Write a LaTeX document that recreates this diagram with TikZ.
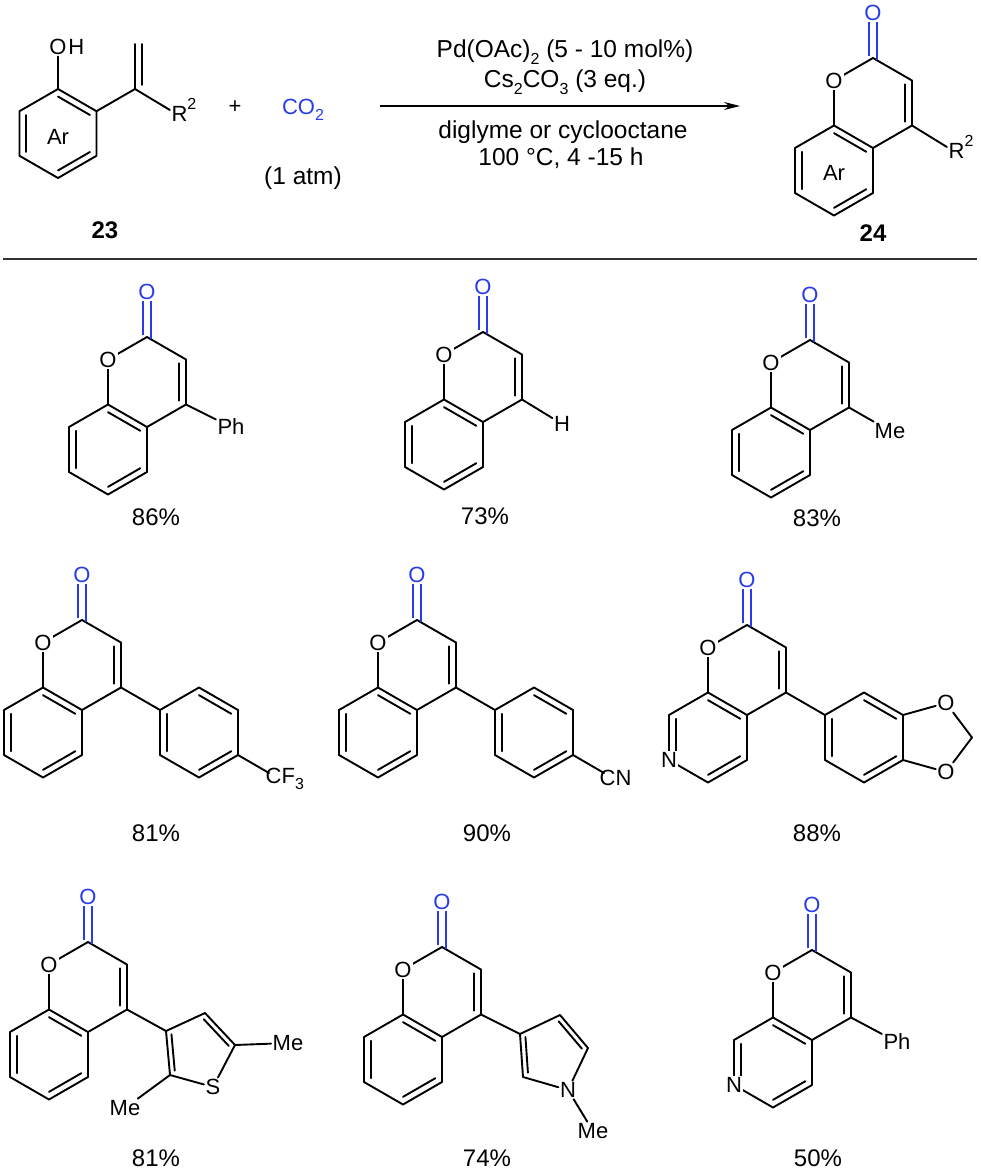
\documentclass[tikz,border=0pt]{standalone}
\usepackage{fontspec}
\setmainfont{Liberation Sans}
\usetikzlibrary{calc,arrows.meta}
\newcommand\sbs[1]{\raisebox{-0.28em}{\fontsize{16}{16}\selectfont #1}}
\newcommand\sps[1]{\raisebox{0.55em}{\fontsize{16}{16}\selectfont #1}}
\definecolor{oblue}{RGB}{40,60,235}
\tikzset{
  bond/.style={line width=1.9pt,line cap=round,line join=round},
  cob/.style={line width=1.9pt,draw=oblue},
  atom/.style={font=\fontsize{22}{24}\selectfont,fill=white,inner sep=1.5pt},
  lbl/.style={font=\fontsize{22}{24}\selectfont,inner sep=1.5pt},
  yld/.style={font=\fontsize{24}{26}\selectfont},
  cond/.style={font=\fontsize{24.5}{26}\selectfont},
}
\newcommand\inb[3]{\draw[bond] ($(#1)!0.17!(#3)$) -- ($(#2)!0.17!(#3)$);}
\newcommand\coum[4]{%
\begin{scope}[shift={(#2,#3)}]
 \coordinate (#1c2) at (0,0); \coordinate (#1c3) at (39,22.5);
 \coordinate (#1c4) at (39,67.5); \coordinate (#1c4a) at (0,90);
 \coordinate (#1c8a) at (-39,67.5); \coordinate (#1o1) at (-39,22.5);
 \coordinate (#1c5) at (0,135); \coordinate (#1c6) at (-39,157.5);
 \coordinate (#1c7) at (-78,135); \coordinate (#1c8) at (-78,90);
 \coordinate (#1za) at (0,45); \coordinate (#1zb) at (-39,112.5);
 \draw[bond] (#1o1)--(#1c2)--(#1c3)--(#1c4)--(#1c4a)--(#1c8a)--cycle;
 \draw[bond] (#1c4a)--(#1c5)--(#1c6)--(#1c7)--(#1c8)--(#1c8a);
 \inb{#1c3}{#1c4}{#1za}
 \inb{#1c8a}{#1c4a}{#1zb}
 \inb{#1c5}{#1c6}{#1zb}
 \inb{#1c7}{#1c8}{#1zb}
 \draw[cob] (-3.8,-2) -- (-3.8,-36) (3.8,2) -- (3.8,-36);
 \node[atom,text=oblue] (#1ox) at (0,-45) {O};
 \node[atom] (#1o) at (#1o1) {O};
 \ifnum#4=1 \node[atom] (#1n) at (#1c7) {N};\fi
\end{scope}}
\newcommand\phen[3]{%
\begin{scope}[shift={(#2,#3)}]
 \coordinate (#1z) at (0,0);
 \coordinate (#1ul) at (-39,-22.5); \coordinate (#1t) at (0,-45);
 \coordinate (#1ur) at (39,-22.5); \coordinate (#1lr) at (39,22.5);
 \coordinate (#1b) at (0,45); \coordinate (#1ll) at (-39,22.5);
 \draw[bond] (#1ul)--(#1t)--(#1ur)--(#1lr)--(#1b)--(#1ll)--cycle;
 \inb{#1ll}{#1ul}{#1z}
 \inb{#1t}{#1ur}{#1z}
 \inb{#1lr}{#1b}{#1z}
\end{scope}}
\begin{document}
\begin{tikzpicture}[x=1pt,y=-1pt]
\useasboundingbox (0,0) rectangle (980,1170);
% ---------- substrate 23
\begin{scope}[shift={(58,133.5)}]
 \coordinate (sz) at (0,0);
 \coordinate (st) at (0,-44.5); \coordinate (sur) at (38.5,-22.3);
 \coordinate (slr) at (38.5,22.3); \coordinate (sb) at (0,44.5);
 \coordinate (sll) at (-38.5,22.3); \coordinate (sul) at (-38.5,-22.3);
 \draw[bond] (st)--(sur)--(slr)--(sb)--(sll)--(sul)--cycle;
 \inb{sll}{sul}{sz} \inb{st}{sur}{sz} \inb{slr}{sb}{sz}
 \node[lbl] at (0,3) {Ar};
\end{scope}
\node[lbl] (oh) at (58,47) {O};
\node[lbl,anchor=west,inner sep=0pt] at (oh.east) {H};
\draw[bond] (st) -- (oh);
\coordinate (sv) at (135,89);
\node[lbl] (sr) at (184,110) {R\sps{2}};
\draw[bond] (sur) -- (sv) -- (sr.west);
\draw[bond] (sv) -- (135,44) (142,85) -- (142,44);
\node[font=\fontsize{24}{26}\selectfont\bfseries] (l23) at (105,230) {23};
% ---------- CO2
\node[lbl] (plus) at (235,107) {+};
\node[lbl,text=oblue] (co2) at (303,110) {CO\sbs{2}};
\node[cond] (atm) at (303,178) {(1 atm)};
% ---------- arrow & conditions
\coordinate (ar1) at (380,106); \coordinate (ar2) at (740,106);
\draw[line width=1.3pt,-{Stealth[length=16pt,width=8pt]}] (ar1) -- (ar2);
\node[cond] (k1) at (565,52) {Pd(OAc)\sbs{2} (5 - 10 mol\%)};
\node[cond] (k2) at (565,82) {Cs\sbs{2}CO\sbs{3} (3 eq.)};
\node[cond] (k3) at (563,132) {diglyme or cyclooctane};
\node[cond] (k4) at (561,158) {100 °C, 4 -15 h};
% ---------- product 24
\coum{P}{873}{58}{0}
\node[lbl] (par) at (834,173) {Ar};
\node[lbl] (pr) at (961,147) {R\sps{2}};
\draw[bond] (Pc4) -- (pr.west);
\node[font=\fontsize{24}{26}\selectfont\bfseries] (l24) at (873,233) {24};
% ---------- separator
\coordinate (s1) at (3,259); \coordinate (s2) at (977,259);
\draw[line width=1.6pt,black!80] (s1) -- (s2);
% ---------- row 1
\coum{A}{147}{337}{0}
\node[lbl] (aph) at (231,427) {Ph};
\draw[bond] (Ac4) -- (aph);
\node[yld] (ya) at (156,517) {86\%};
\coum{B}{483}{332}{0}
\node[lbl] (bh) at (562,424) {H};
\draw[bond] (Bc4) -- (bh);
\node[yld] (yb) at (485,516) {73\%};
\coum{C}{810}{340}{0}
\node[lbl] (cme) at (890,431) {Me};
\draw[bond] (Cc4) -- (cme);
\node[yld] (yc) at (817,518) {83\%};
% ---------- row 2
\coum{D}{82}{620}{0}
\phen{Dp}{199}{732.5}
\draw[bond] (Dc4) -- (Dpul);
\node[lbl,anchor=west] (dcf) at (264,779) {CF\sbs{3}};
\draw[bond] (Dplr) -- ($(Dplr)+(31,18)$);
\node[yld] (yd) at (156,833) {81\%};
\coum{E}{417}{620}{0}
\phen{Ep}{534}{732.5}
\draw[bond] (Ec4) -- (Epul);
\node[lbl,anchor=west] (ecn) at (598,778) {CN};
\draw[bond] (Eplr) -- ($(Eplr)+(31,18)$);
\node[yld] (ye) at (487,833) {90\%};
\coum{F}{747}{625}{1}
\phen{Fp}{864}{737.5}
\draw[bond] (Fc4) -- (Fpul);
\coordinate (Fch) at (972,737.5);
\node[atom] (Foa) at (946,703) {O};
\node[atom] (Fob) at (946,772) {O};
\draw[bond] (Fpur) -- (Foa) -- (Fch) -- (Fob) -- (Fplr);
\node[yld] (yf) at (817,833) {88\%};
% ---------- row 3
\coum{G}{88}{942}{0}
\coordinate (G3) at (166,1031); \coordinate (G4) at (205,1013);
\coordinate (G5) at (235,1045); \coordinate (G2) at (170,1075);
\coordinate (Gz) at (198,1050);
\node[atom] (Gs) at (213,1087) {S};
\draw[bond] (Gc4) -- (G3) -- (G4) -- (G5) -- (Gs) -- (G2) -- (G3);
\inb{G3}{G2}{Gz} \inb{G4}{G5}{Gz}
\node[lbl] (gme1) at (288,1043) {Me};
\node[lbl] (gme2) at (125,1108) {Me};
\draw[bond] (G5) -- (gme1) (G2) -- (gme2);
\node[yld] (yg) at (156,1158) {81\%};
\coum{H}{442}{947}{0}
\coordinate (H3) at (520,1034); \coordinate (H4) at (560,1015);
\coordinate (H5) at (588,1048); \coordinate (H2) at (523,1077);
\coordinate (Hz) at (552,1052);
\node[atom] (Hn) at (568,1090) {N};
\draw[bond] (Hc4) -- (H3) -- (H4) -- (H5) -- (Hn) -- (H2) -- (H3);
\inb{H3}{H2}{Hz} \inb{H4}{H5}{Hz}
\node[lbl] (hme) at (593,1131) {Me};
\draw[bond] (Hn) -- (hme);
\node[yld] (yh) at (487,1158) {74\%};
\coum{I}{812}{950}{1}
\node[lbl] (iph) at (897,1042) {Ph};
\draw[bond] (Ic4) -- (iph);
\node[yld] (yi) at (818,1158) {50\%};
\end{tikzpicture}
\end{document}
